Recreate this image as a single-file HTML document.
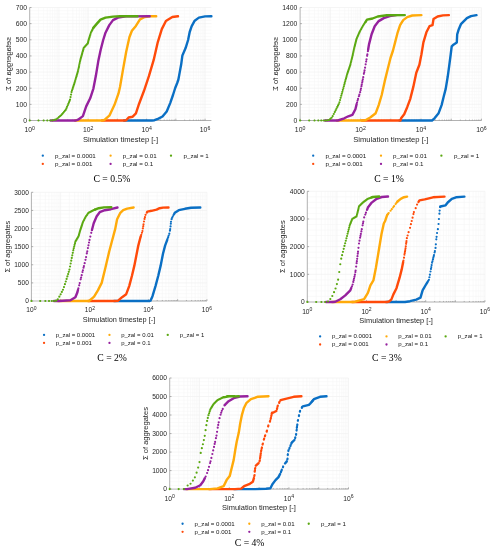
<!DOCTYPE html>
<html lang="en"><head><meta charset="utf-8"><title>Aggregates vs simulation timestep</title>
<style>html,body{margin:0;padding:0;background:#fff}svg{display:block}</style></head>
<body>
<svg width="494" height="550" viewBox="0 0 494 550" font-family="Liberation Sans, Arial, sans-serif">
<rect width="494" height="550" fill="#fff"/>
<g><path d="M29.7 117.27H211.4M29.7 114.04H211.4M29.7 110.81H211.4M29.7 107.59H211.4M29.7 101.13H211.4M29.7 97.9H211.4M29.7 94.67H211.4M29.7 91.44H211.4M29.7 84.99H211.4M29.7 81.76H211.4M29.7 78.53H211.4M29.7 75.3H211.4M29.7 68.84H211.4M29.7 65.61H211.4M29.7 62.39H211.4M29.7 59.16H211.4M29.7 52.7H211.4M29.7 49.47H211.4M29.7 46.24H211.4M29.7 43.01H211.4M29.7 36.56H211.4M29.7 33.33H211.4M29.7 30.1H211.4M29.7 26.87H211.4M29.7 20.41H211.4M29.7 17.19H211.4M29.7 13.96H211.4M29.7 10.73H211.4M38.5 7.5V120.5M43.65 7.5V120.5M47.3 7.5V120.5M50.13 7.5V120.5M52.45 7.5V120.5M54.4 7.5V120.5M56.1 7.5V120.5M57.59 7.5V120.5M67.73 7.5V120.5M72.88 7.5V120.5M76.53 7.5V120.5M79.36 7.5V120.5M81.68 7.5V120.5M83.63 7.5V120.5M85.33 7.5V120.5M86.82 7.5V120.5M96.96 7.5V120.5M102.11 7.5V120.5M105.76 7.5V120.5M108.59 7.5V120.5M110.91 7.5V120.5M112.86 7.5V120.5M114.56 7.5V120.5M116.05 7.5V120.5M126.19 7.5V120.5M131.34 7.5V120.5M134.99 7.5V120.5M137.82 7.5V120.5M140.14 7.5V120.5M142.09 7.5V120.5M143.79 7.5V120.5M145.28 7.5V120.5M155.42 7.5V120.5M160.57 7.5V120.5M164.22 7.5V120.5M167.05 7.5V120.5M169.37 7.5V120.5M171.32 7.5V120.5M173.02 7.5V120.5M174.51 7.5V120.5M184.65 7.5V120.5M189.8 7.5V120.5M193.45 7.5V120.5M196.28 7.5V120.5M198.6 7.5V120.5M200.55 7.5V120.5M202.25 7.5V120.5M203.74 7.5V120.5" stroke="#f6f6f6" stroke-width="0.6" fill="none"/><path d="M29.7 104.36H211.4M29.7 88.21H211.4M29.7 72.07H211.4M29.7 55.93H211.4M29.7 39.79H211.4M29.7 23.64H211.4M29.7 7.5H211.4M58.93 7.5V120.5M88.16 7.5V120.5M117.39 7.5V120.5M146.62 7.5V120.5M175.85 7.5V120.5M205.08 7.5V120.5" stroke="#f0f0f0" stroke-width="0.7" fill="none"/><path d="M29.7 7.5V120.5H211.4M29.7 120.5h1.8M29.7 104.36h1.8M29.7 88.21h1.8M29.7 72.07h1.8M29.7 55.93h1.8M29.7 39.79h1.8M29.7 23.64h1.8M29.7 7.5h1.8M29.7 120.5v-1.8M58.93 120.5v-1.8M88.16 120.5v-1.8M117.39 120.5v-1.8M146.62 120.5v-1.8M175.85 120.5v-1.8M205.08 120.5v-1.8M38.5 120.5v-0.9M43.65 120.5v-0.9M47.3 120.5v-0.9M50.13 120.5v-0.9M52.45 120.5v-0.9M54.4 120.5v-0.9M56.1 120.5v-0.9M57.59 120.5v-0.9M67.73 120.5v-0.9M72.88 120.5v-0.9M76.53 120.5v-0.9M79.36 120.5v-0.9M81.68 120.5v-0.9M83.63 120.5v-0.9M85.33 120.5v-0.9M86.82 120.5v-0.9M96.96 120.5v-0.9M102.11 120.5v-0.9M105.76 120.5v-0.9M108.59 120.5v-0.9M110.91 120.5v-0.9M112.86 120.5v-0.9M114.56 120.5v-0.9M116.05 120.5v-0.9M126.19 120.5v-0.9M131.34 120.5v-0.9M134.99 120.5v-0.9M137.82 120.5v-0.9M140.14 120.5v-0.9M142.09 120.5v-0.9M143.79 120.5v-0.9M145.28 120.5v-0.9M155.42 120.5v-0.9M160.57 120.5v-0.9M164.22 120.5v-0.9M167.05 120.5v-0.9M169.37 120.5v-0.9M171.32 120.5v-0.9M173.02 120.5v-0.9M174.51 120.5v-0.9M184.65 120.5v-0.9M189.8 120.5v-0.9M193.45 120.5v-0.9M196.28 120.5v-0.9M198.6 120.5v-0.9M200.55 120.5v-0.9M202.25 120.5v-0.9M203.74 120.5v-0.9" stroke="#909090" stroke-width="0.7" fill="none"/><g font-size="6.8" fill="#262626"><text x="27" y="122.85" text-anchor="end">0</text><text x="27" y="106.71" text-anchor="end">100</text><text x="27" y="90.56" text-anchor="end">200</text><text x="27" y="74.42" text-anchor="end">300</text><text x="27" y="58.28" text-anchor="end">400</text><text x="27" y="42.14" text-anchor="end">500</text><text x="27" y="25.99" text-anchor="end">600</text><text x="27" y="9.85" text-anchor="end">700</text><text x="29.7" y="132.3" text-anchor="middle">10<tspan dy="-2.6" font-size="5.2">0</tspan></text><text x="88.16" y="132.3" text-anchor="middle">10<tspan dy="-2.6" font-size="5.2">2</tspan></text><text x="146.62" y="132.3" text-anchor="middle">10<tspan dy="-2.6" font-size="5.2">4</tspan></text><text x="205.08" y="132.3" text-anchor="middle">10<tspan dy="-2.6" font-size="5.2">6</tspan></text></g><text x="120.45" y="142.2" font-size="7.6" fill="#262626" text-anchor="middle">Simulation timestep [-]</text><text transform="translate(11.45 64) scale(1 -1) rotate(-90)" direction="rtl" unicode-bidi="bidi-override" font-size="7.68" fill="#262626" text-anchor="middle">Σ of aggregates</text><polyline points="124,120.5 152,120.5 154.5,120.2 158.5,118.6 162.5,116.5 166.7,111.5 170.2,103.1 173,95 175.2,88 177.2,83 178.4,79.5 179.7,72.4 181.2,64.3 182.4,55.4 185.6,48.1 188.1,40 189.7,32 191.6,26.3 194.7,20.7 198.9,17.6 205.1,16.4 211.4,16.3" stroke="#0a6fc4" stroke-width="2.4" stroke-linecap="round" stroke-linejoin="round" fill="none"/><polyline points="102,120.5 125,120.5 126.2,120.2 128.6,117.5 132.7,116.7 135.9,113.4 139.1,103.7 144,90.8 148.9,76.2 153.7,59.9 157.8,42.1 161.8,29.1 165.9,21 172.3,17 178,16.3" stroke="#ff4a0a" stroke-width="2.4" stroke-linecap="round" stroke-linejoin="round" fill="none"/><polyline points="75,120.5 103,120.5 104.8,119.7 109.6,115.3 114.5,104.8 118.5,93.4 120,87 123,69.6 126.2,51.8 129.4,37.2 131.9,30.8 135.9,25.9 140,19.4 144.8,17 150,16.3 156.2,16.3" stroke="#ffaa0a" stroke-width="2.4" stroke-linecap="round" stroke-linejoin="round" fill="none"/><polyline points="51,120.5 76,120.5 78.1,119.7 82.9,116.1 86.2,106.4 90.2,98.3 93.4,88.6 95.9,75.6 98.3,61.1 100.7,49.7 103.2,40 105.5,32.7 109.3,25.1 113,20.1 118,17.6 126,16.4 149.7,16.3" stroke="#96219e" stroke-width="2.4" stroke-linecap="round" stroke-linejoin="round" fill="none"/><path d="M29.7 120.5h0M38.5 120.5h0M43.65 120.5h0M47.3 120.5h0M50.13 120.5h0M52.45 120.38h0M54.4 119.87h0M56.1 119.43h0M57.59 118.23h0M58.93 117.12h0M60.14 116.1h0M61.24 115.13h0M62.26 113.92h0M63.2 112.8h0M64.08 111.76h0M64.9 110.79h0M65.67 109.88h0M66.39 108.44h0M67.08 106.81h0M67.73 105.27h0M68.35 103.81h0M68.94 102.41h0M69.5 101.08h0M70.04 99.68h0M70.56 97.06h0M71.06 94.54h0M71.54 92.11h0M72 90.59h0M72.45 89.24h0M72.88 87.93h0M73.29 86.67h0M73.7 85.45h0M74.09 84.26h0M74.47 83.12h0M74.83 81.99h0M75.19 80.76h0M75.54 79.57h0M75.88 78.41h0M76.21 77.28h0M76.53 76.18h0M76.84 75.11h0M77.15 74.06h0M77.45 73.04h0M77.74 72.04h0M78.02 71.06h0M78.3 69.84h0M78.58 68.54h0M78.84 67.27h0M79.1 66.03h0M79.36 64.81h0M79.61 63.62h0M79.86 62.45h0M80.1 61.3h0M80.34 60.17h0M80.57 59.15h0M80.8 58.34h0M81.02 57.55h0M81.25 56.77h0M81.46 56h0M81.68 55.25h0M81.89 54.51h0M82.09 53.78h0M82.29 53.06h0M82.49 52.36h0M82.69 51.66h0M82.89 50.98h0M83.08 50.3h0M83.26 49.64h0M83.45 48.98h0M83.63 48.34h0M83.81 47.97h0M83.99 47.77h0M84.16 47.58h0M84.34 47.38h0M84.51 47.19h0M84.68 47h0M84.84 46.82h0M85.01 46.63h0M85.17 46.45h0M85.33 46.27h0M85.49 46.1h0M85.64 45.92h0M85.79 45.75h0M85.95 45.58h0M86.1 45.41h0M86.25 45.24h0M86.39 45.08h0M86.54 44.92h0M86.68 44.76h0M86.82 44.6h0M86.96 44.44h0M87.1 44.28h0M87.24 44.13h0M87.37 43.98h0M87.51 43.83h0M87.64 43.68h0M87.77 43.53h0M87.9 43.05h0M88.03 42.48h0M88.16 41.92h0M88.29 41.37h0M88.41 40.83h0M88.54 40.28h0M88.66 39.82h0M88.78 39.45h0M88.9 39.09h0M89.02 38.73h0M89.14 38.37h0M89.25 38.01h0M89.37 37.66h0M89.48 37.31h0M89.6 36.96h0M89.71 36.62h0M89.82 36.28h0M89.93 35.94h0M90.04 35.61h0M90.15 35.28h0M90.26 34.95h0M90.37 34.62h0M90.47 34.3h0M90.58 33.98h0M90.68 33.66h0M90.79 33.35h0M90.89 33.03h0M90.99 32.72h0M91.09 32.51h0M91.19 32.3h0M91.29 32.1h0M91.39 31.9h0M91.49 31.7h0M91.59 31.5h0M91.68 31.3h0M91.78 31.11h0M91.88 30.91h0M91.97 30.72h0M92.06 30.53h0M92.16 30.34h0M92.25 30.15h0M92.34 29.97h0M92.43 29.78h0M92.52 29.6h0M92.61 29.41h0M92.7 29.23h0M92.79 29.05h0M92.88 28.87h0M92.96 28.69h0M93.05 28.52h0M93.14 28.34h0M93.22 28.17h0" stroke="#5aa811" stroke-width="2.2" stroke-linecap="round" fill="none"/><polyline points="93.31,27.99 93.5,27.6 96.7,23.9 100.5,19.6 105.5,17.6 113,16.6 120,16.3 137.5,16.3" stroke="#5aa811" stroke-width="2.4" stroke-linecap="round" stroke-linejoin="round" fill="none"/><g font-size="6.2" fill="#151515"><circle cx="42.8" cy="155.7" r="1.15" fill="#0a6fc4"/><text x="55" y="157.7">p_zal = 0.0001</text><circle cx="42.8" cy="163.9" r="1.15" fill="#ff4a0a"/><text x="55" y="165.9">p_zal = 0.001</text><circle cx="110.6" cy="155.7" r="1.15" fill="#ffaa0a"/><text x="122.7" y="157.7">p_zal = 0.01</text><circle cx="110.6" cy="163.9" r="1.15" fill="#96219e"/><text x="122.7" y="165.9">p_zal = 0.1</text><circle cx="171" cy="155.7" r="1.15" fill="#5aa811"/><text x="183.5" y="157.7">p_zal = 1</text></g><text x="111.9" y="181.8" font-family="Liberation Serif, Times New Roman, serif" font-size="9.7" fill="#000" text-anchor="middle">C = 0.5%</text></g>
<g><path d="M300.1 117.27H481.5M300.1 114.04H481.5M300.1 110.81H481.5M300.1 107.59H481.5M300.1 101.13H481.5M300.1 97.9H481.5M300.1 94.67H481.5M300.1 91.44H481.5M300.1 84.99H481.5M300.1 81.76H481.5M300.1 78.53H481.5M300.1 75.3H481.5M300.1 68.84H481.5M300.1 65.61H481.5M300.1 62.39H481.5M300.1 59.16H481.5M300.1 52.7H481.5M300.1 49.47H481.5M300.1 46.24H481.5M300.1 43.01H481.5M300.1 36.56H481.5M300.1 33.33H481.5M300.1 30.1H481.5M300.1 26.87H481.5M300.1 20.41H481.5M300.1 17.19H481.5M300.1 13.96H481.5M300.1 10.73H481.5M309.2 7.5V120.5M314.52 7.5V120.5M318.3 7.5V120.5M321.23 7.5V120.5M323.62 7.5V120.5M325.65 7.5V120.5M327.4 7.5V120.5M328.95 7.5V120.5M339.43 7.5V120.5M344.75 7.5V120.5M348.53 7.5V120.5M351.46 7.5V120.5M353.85 7.5V120.5M355.88 7.5V120.5M357.63 7.5V120.5M359.18 7.5V120.5M369.66 7.5V120.5M374.98 7.5V120.5M378.76 7.5V120.5M381.69 7.5V120.5M384.08 7.5V120.5M386.11 7.5V120.5M387.86 7.5V120.5M389.41 7.5V120.5M399.89 7.5V120.5M405.21 7.5V120.5M408.99 7.5V120.5M411.92 7.5V120.5M414.31 7.5V120.5M416.34 7.5V120.5M418.09 7.5V120.5M419.64 7.5V120.5M430.12 7.5V120.5M435.44 7.5V120.5M439.22 7.5V120.5M442.15 7.5V120.5M444.54 7.5V120.5M446.57 7.5V120.5M448.32 7.5V120.5M449.87 7.5V120.5M460.35 7.5V120.5M465.67 7.5V120.5M469.45 7.5V120.5M472.38 7.5V120.5M474.77 7.5V120.5M476.8 7.5V120.5M478.55 7.5V120.5M480.1 7.5V120.5" stroke="#f6f6f6" stroke-width="0.6" fill="none"/><path d="M300.1 104.36H481.5M300.1 88.21H481.5M300.1 72.07H481.5M300.1 55.93H481.5M300.1 39.79H481.5M300.1 23.64H481.5M300.1 7.5H481.5M330.33 7.5V120.5M360.56 7.5V120.5M390.79 7.5V120.5M421.02 7.5V120.5M451.25 7.5V120.5M481.48 7.5V120.5" stroke="#f0f0f0" stroke-width="0.7" fill="none"/><path d="M300.1 7.5V120.5H481.5M300.1 120.5h1.8M300.1 104.36h1.8M300.1 88.21h1.8M300.1 72.07h1.8M300.1 55.93h1.8M300.1 39.79h1.8M300.1 23.64h1.8M300.1 7.5h1.8M300.1 120.5v-1.8M330.33 120.5v-1.8M360.56 120.5v-1.8M390.79 120.5v-1.8M421.02 120.5v-1.8M451.25 120.5v-1.8M481.48 120.5v-1.8M309.2 120.5v-0.9M314.52 120.5v-0.9M318.3 120.5v-0.9M321.23 120.5v-0.9M323.62 120.5v-0.9M325.65 120.5v-0.9M327.4 120.5v-0.9M328.95 120.5v-0.9M339.43 120.5v-0.9M344.75 120.5v-0.9M348.53 120.5v-0.9M351.46 120.5v-0.9M353.85 120.5v-0.9M355.88 120.5v-0.9M357.63 120.5v-0.9M359.18 120.5v-0.9M369.66 120.5v-0.9M374.98 120.5v-0.9M378.76 120.5v-0.9M381.69 120.5v-0.9M384.08 120.5v-0.9M386.11 120.5v-0.9M387.86 120.5v-0.9M389.41 120.5v-0.9M399.89 120.5v-0.9M405.21 120.5v-0.9M408.99 120.5v-0.9M411.92 120.5v-0.9M414.31 120.5v-0.9M416.34 120.5v-0.9M418.09 120.5v-0.9M419.64 120.5v-0.9M430.12 120.5v-0.9M435.44 120.5v-0.9M439.22 120.5v-0.9M442.15 120.5v-0.9M444.54 120.5v-0.9M446.57 120.5v-0.9M448.32 120.5v-0.9M449.87 120.5v-0.9M460.35 120.5v-0.9M465.67 120.5v-0.9M469.45 120.5v-0.9M472.38 120.5v-0.9M474.77 120.5v-0.9M476.8 120.5v-0.9M478.55 120.5v-0.9M480.1 120.5v-0.9" stroke="#909090" stroke-width="0.7" fill="none"/><g font-size="6.8" fill="#262626"><text x="297.4" y="122.85" text-anchor="end">0</text><text x="297.4" y="106.71" text-anchor="end">200</text><text x="297.4" y="90.56" text-anchor="end">400</text><text x="297.4" y="74.42" text-anchor="end">600</text><text x="297.4" y="58.28" text-anchor="end">800</text><text x="297.4" y="42.14" text-anchor="end">1000</text><text x="297.4" y="25.99" text-anchor="end">1200</text><text x="297.4" y="9.85" text-anchor="end">1400</text><text x="300.1" y="132.3" text-anchor="middle">10<tspan dy="-2.6" font-size="5.2">0</tspan></text><text x="360.56" y="132.3" text-anchor="middle">10<tspan dy="-2.6" font-size="5.2">2</tspan></text><text x="421.02" y="132.3" text-anchor="middle">10<tspan dy="-2.6" font-size="5.2">4</tspan></text><text x="481.48" y="132.3" text-anchor="middle">10<tspan dy="-2.6" font-size="5.2">6</tspan></text></g><text x="390.85" y="142.2" font-size="7.6" fill="#262626" text-anchor="middle">Simulation timestep [-]</text><text transform="translate(277.85 64) scale(1 -1) rotate(-90)" direction="rtl" unicode-bidi="bidi-override" font-size="7.68" fill="#262626" text-anchor="middle">Σ of aggregates</text><polyline points="399.5,120.5 432,120.5 434.5,118.3 438.6,113.2 441.6,105.1 443.6,97 445.7,88.9 447.7,76.8 449.1,66.7 450.7,54.5 451.7,46.4 453.8,44.4 456.8,42.4 457.2,34.3 458.8,29.2 460.9,24.2 463.9,21.1 466.9,18.1 471,16.1 476.5,15.1" stroke="#0a6fc4" stroke-width="2.4" stroke-linecap="round" stroke-linejoin="round" fill="none"/><polyline points="362,120.5 400.5,120.5 401.1,118.3 404.2,114.3 407.2,107.2 410.2,99.1 413.3,86.9 416.3,72.8 419.4,64.7 421.4,54.5 423.4,42.4 426.4,32.3 429.5,26.2 432.5,25.2 433.5,19.1 437.6,16.5 443,15.4 448.9,15.1" stroke="#ff4a0a" stroke-width="2.4" stroke-linecap="round" stroke-linejoin="round" fill="none"/><polyline points="336.8,120.5 363,120.5 365.4,120.3 370.6,117.3 375.7,113.2 378.7,105.1 381.7,95 384.8,80.9 387.8,68.7 390.5,58 393,50.5 395.1,42.4 397.7,32.3 400.1,25.2 403.2,20.1 407.2,17.1 412.3,15.5 421.4,15.1" stroke="#ffaa0a" stroke-width="2.4" stroke-linecap="round" stroke-linejoin="round" fill="none"/><polyline points="325,120.5 337.8,120.5 344.3,118.3 348.3,116.3 352.4,114.9 355.4,109.2 356.67,104.06" stroke="#96219e" stroke-width="2.4" stroke-linecap="round" stroke-linejoin="round" fill="none"/><polyline points="368.11,49.8 369,44.4 371.6,34.3 374.7,26.2 378.7,21.1 383.8,18.1 389.8,16.1 396,15.1" stroke="#96219e" stroke-width="2.4" stroke-linecap="round" stroke-linejoin="round" fill="none"/><path d="M357.06 102.48h0M357.58 100.52h0M358.06 98.96h0M358.89 96.24h0M359.37 94.69h0M360.14 92.17h0M360.7 90.01h0M360.97 88.62h0M361.44 86.25h0M361.75 84.66h0M362.19 82.48h0M362.5 80.9h0M362.81 79.33h0M363.24 77.16h0M363.89 73.82h0M364.2 72.24h0M364.55 70.47h0M365.07 67.71h0M365.66 64.34h0M366.14 61.56h0M366.52 59.38h0M367.13 55.8h0M367.36 54.4h0M367.89 51.2h0" stroke="#96219e" stroke-width="2.2" stroke-linecap="round" fill="none"/><path d="M300.1 120.5h0M309.2 120.5h0M314.52 120.5h0M318.3 120.5h0M321.23 120.5h0M323.62 120.5h0M325.65 120.5h0M327.4 120.27h0M328.95 120.01h0M330.33 118.84h0M331.58 117.75h0M332.72 116.07h0M333.77 114.01h0M334.75 112.09h0M335.65 110.28h0M336.5 108.57h0M337.3 106.95h0M338.05 105.44h0M338.76 104h0M339.43 102.28h0M340.07 99.98h0M340.68 97.8h0M341.27 95.71h0M341.82 93.71h0M342.36 91.78h0M342.87 89.87h0M343.37 88.04h0M343.85 86.27h0M344.31 84.57h0M344.75 82.92h0M345.18 81.33h0M345.6 79.83h0M346 78.4h0M346.4 77.01h0M346.78 75.66h0M347.15 74.34h0M347.51 73.19h0M347.86 72.17h0M348.2 71.16h0M348.53 70.19h0M348.85 69.24h0M349.17 68.31h0M349.48 67.4h0M349.78 66.52h0M350.08 65.65h0M350.37 64.8h0M350.65 63.7h0M350.92 62.58h0M351.19 61.48h0M351.46 60.41h0M351.72 59.35h0M351.97 58.32h0M352.22 57.31h0M352.47 56.28h0M352.71 55.17h0M352.95 54.08h0M353.18 53.01h0M353.41 51.96h0M353.63 50.93h0M353.85 49.91h0M354.07 48.92h0M354.28 47.93h0M354.49 47.02h0M354.7 46.2h0M354.9 45.38h0M355.1 44.58h0M355.3 43.79h0M355.5 43.01h0M355.69 42.25h0M355.88 41.49h0M356.06 40.75h0M356.25 40.01h0M356.43 39.34h0M356.61 38.93h0M356.78 38.52h0M356.96 38.12h0M357.13 37.73h0M357.3 37.34h0M357.47 36.96h0M357.63 36.58h0M357.79 36.21h0M357.95 35.84h0M358.11 35.48h0M358.27 35.11h0M358.43 34.76h0M358.58 34.41h0M358.73 34.06h0M358.88 33.72h0M359.03 33.38h0M359.18 33.04h0M359.32 32.71h0M359.47 32.38h0M359.61 32.11h0M359.75 31.86h0M359.89 31.61h0M360.02 31.36h0M360.16 31.12h0M360.29 30.87h0M360.43 30.63h0M360.56 30.4h0M360.69 30.16h0M360.82 29.93h0M360.95 29.7h0M361.07 29.47h0M361.2 29.25h0M361.32 29.03h0M361.45 28.8h0M361.57 28.59h0M361.69 28.37h0M361.81 28.15h0M361.93 27.94h0M362.05 27.73h0M362.16 27.52h0M362.28 27.31h0M362.39 27.11h0M362.51 26.9h0M362.62 26.7h0M362.73 26.5h0M362.84 26.3h0M362.95 26.11h0M363.06 25.94h0M363.17 25.77h0M363.28 25.6h0M363.38 25.43h0M363.49 25.27h0M363.59 25.1h0M363.7 24.93h0M363.8 24.77h0M363.9 24.61h0M364 24.45h0M364.11 24.29h0M364.2 24.13h0M364.3 23.97h0M364.4 23.82h0M364.5 23.66h0M364.6 23.51h0M364.69 23.36h0M364.79 23.21h0M364.88 23.06h0M364.98 22.91h0M365.07 22.76h0M365.16 22.61h0M365.26 22.47h0M365.35 22.32h0M365.44 22.18h0M365.53 22.03h0M365.62 21.89h0M365.71 21.75h0M365.8 21.61h0" stroke="#5aa811" stroke-width="2.2" stroke-linecap="round" fill="none"/><polyline points="365.88,21.47 367,19.7 372.6,18.5 377.7,16.5 386.8,15.3 404.8,15.1" stroke="#5aa811" stroke-width="2.4" stroke-linecap="round" stroke-linejoin="round" fill="none"/><g font-size="6.2" fill="#151515"><circle cx="313.2" cy="155.7" r="1.15" fill="#0a6fc4"/><text x="325.4" y="157.7">p_zal = 0.0001</text><circle cx="313.2" cy="163.9" r="1.15" fill="#ff4a0a"/><text x="325.4" y="165.9">p_zal = 0.001</text><circle cx="381" cy="155.7" r="1.15" fill="#ffaa0a"/><text x="393.1" y="157.7">p_zal = 0.01</text><circle cx="381" cy="163.9" r="1.15" fill="#96219e"/><text x="393.1" y="165.9">p_zal = 0.1</text><circle cx="441.4" cy="155.7" r="1.15" fill="#5aa811"/><text x="453.9" y="157.7">p_zal = 1</text></g><text x="389" y="181.8" font-family="Liberation Serif, Times New Roman, serif" font-size="9.7" fill="#000" text-anchor="middle">C = 1%</text></g>
<g><path d="M31.4 297.38H207M31.4 293.75H207M31.4 290.13H207M31.4 286.51H207M31.4 279.26H207M31.4 275.64H207M31.4 272.01H207M31.4 268.39H207M31.4 261.14H207M31.4 257.52H207M31.4 253.9H207M31.4 250.27H207M31.4 243.03H207M31.4 239.4H207M31.4 235.78H207M31.4 232.16H207M31.4 224.91H207M31.4 221.29H207M31.4 217.66H207M31.4 214.04H207M31.4 206.79H207M31.4 203.17H207M31.4 199.55H207M31.4 195.92H207M40.21 192.3V301M45.36 192.3V301M49.01 192.3V301M51.84 192.3V301M54.16 192.3V301M56.12 192.3V301M57.82 192.3V301M59.31 192.3V301M69.46 192.3V301M74.61 192.3V301M78.26 192.3V301M81.09 192.3V301M83.41 192.3V301M85.37 192.3V301M87.07 192.3V301M88.56 192.3V301M98.71 192.3V301M103.86 192.3V301M107.51 192.3V301M110.34 192.3V301M112.66 192.3V301M114.62 192.3V301M116.32 192.3V301M117.81 192.3V301M127.96 192.3V301M133.11 192.3V301M136.76 192.3V301M139.59 192.3V301M141.91 192.3V301M143.87 192.3V301M145.57 192.3V301M147.06 192.3V301M157.21 192.3V301M162.36 192.3V301M166.01 192.3V301M168.84 192.3V301M171.16 192.3V301M173.12 192.3V301M174.82 192.3V301M176.31 192.3V301M186.46 192.3V301M191.61 192.3V301M195.26 192.3V301M198.09 192.3V301M200.41 192.3V301M202.37 192.3V301M204.07 192.3V301M205.56 192.3V301" stroke="#f6f6f6" stroke-width="0.6" fill="none"/><path d="M31.4 282.88H207M31.4 264.77H207M31.4 246.65H207M31.4 228.53H207M31.4 210.42H207M31.4 192.3H207M60.65 192.3V301M89.9 192.3V301M119.15 192.3V301M148.4 192.3V301M177.65 192.3V301M206.9 192.3V301" stroke="#f0f0f0" stroke-width="0.7" fill="none"/><path d="M31.4 192.3V301H207M31.4 301h1.8M31.4 282.88h1.8M31.4 264.77h1.8M31.4 246.65h1.8M31.4 228.53h1.8M31.4 210.42h1.8M31.4 192.3h1.8M31.4 301v-1.8M60.65 301v-1.8M89.9 301v-1.8M119.15 301v-1.8M148.4 301v-1.8M177.65 301v-1.8M206.9 301v-1.8M40.21 301v-0.9M45.36 301v-0.9M49.01 301v-0.9M51.84 301v-0.9M54.16 301v-0.9M56.12 301v-0.9M57.82 301v-0.9M59.31 301v-0.9M69.46 301v-0.9M74.61 301v-0.9M78.26 301v-0.9M81.09 301v-0.9M83.41 301v-0.9M85.37 301v-0.9M87.07 301v-0.9M88.56 301v-0.9M98.71 301v-0.9M103.86 301v-0.9M107.51 301v-0.9M110.34 301v-0.9M112.66 301v-0.9M114.62 301v-0.9M116.32 301v-0.9M117.81 301v-0.9M127.96 301v-0.9M133.11 301v-0.9M136.76 301v-0.9M139.59 301v-0.9M141.91 301v-0.9M143.87 301v-0.9M145.57 301v-0.9M147.06 301v-0.9M157.21 301v-0.9M162.36 301v-0.9M166.01 301v-0.9M168.84 301v-0.9M171.16 301v-0.9M173.12 301v-0.9M174.82 301v-0.9M176.31 301v-0.9M186.46 301v-0.9M191.61 301v-0.9M195.26 301v-0.9M198.09 301v-0.9M200.41 301v-0.9M202.37 301v-0.9M204.07 301v-0.9M205.56 301v-0.9" stroke="#909090" stroke-width="0.7" fill="none"/><g font-size="6.56" fill="#262626"><text x="28.79" y="303.27" text-anchor="end">0</text><text x="28.79" y="285.15" text-anchor="end">500</text><text x="28.79" y="267.03" text-anchor="end">1000</text><text x="28.79" y="248.92" text-anchor="end">1500</text><text x="28.79" y="230.8" text-anchor="end">2000</text><text x="28.79" y="212.68" text-anchor="end">2500</text><text x="28.79" y="194.57" text-anchor="end">3000</text><text x="31.4" y="312.39" text-anchor="middle">10<tspan dy="-2.51" font-size="5.02">0</tspan></text><text x="89.9" y="312.39" text-anchor="middle">10<tspan dy="-2.51" font-size="5.02">2</tspan></text><text x="148.4" y="312.39" text-anchor="middle">10<tspan dy="-2.51" font-size="5.02">4</tspan></text><text x="206.9" y="312.39" text-anchor="middle">10<tspan dy="-2.51" font-size="5.02">6</tspan></text></g><text x="118.97" y="321.94" font-size="7.33" fill="#262626" text-anchor="middle">Simulation timestep [-]</text><text transform="translate(9.95 246.65) rotate(-90)" font-size="7.41" fill="#262626" text-anchor="middle">Σ of aggregates</text><polyline points="114,301 149.5,301 150.5,300.7 152.5,296.2 155.5,286.1 158.2,276 160.6,265.9 163,253.7 165.1,245.6 167.14,240.04" stroke="#0a6fc4" stroke-width="2.4" stroke-linecap="round" stroke-linejoin="round" fill="none"/><polyline points="174.2,213.85 174.8,212.8 178.8,210.2 184.9,208.8 191,207.8 200.3,207.5" stroke="#0a6fc4" stroke-width="2.4" stroke-linecap="round" stroke-linejoin="round" fill="none"/><path d="M167.63 238.69h0M168.15 237.15h0M168.67 235.6h0M169.31 233.66h0M169.96 230.67h0M170.19 229.05h0M170.56 226.41h0M170.83 223.77h0M170.99 221.73h0M171.59 219.16h0M172.15 217.82h0M172.72 216.49h0M173.5 215.08h0" stroke="#0a6fc4" stroke-width="2.2" stroke-linecap="round" fill="none"/><polyline points="88.1,301 115,301 118.1,300.7 122.1,297.2 126.2,294.2 129.2,286.1 131.9,276 134.3,265.9 136.3,255.7 138.3,245.6 140.4,237.5 140.84,236.17" stroke="#ff4a0a" stroke-width="2.4" stroke-linecap="round" stroke-linejoin="round" fill="none"/><polyline points="147.2,211.96 147.4,211.6 151.5,210.8 156.6,209.6 159.6,208.2 163,207.6 168.5,207.5" stroke="#ff4a0a" stroke-width="2.4" stroke-linecap="round" stroke-linejoin="round" fill="none"/><path d="M141.28 234.83h0M141.96 232.73h0M142.46 231h0M142.87 228.43h0M143.22 226.25h0M143.5 224.47h0M143.97 221.5h0M144.54 218.94h0M144.95 217.17h0M145.6 214.84h0M146.8 212.68h0" stroke="#ff4a0a" stroke-width="2.2" stroke-linecap="round" fill="none"/><polyline points="58,301 89.1,301 94.1,296.7 97.9,290.4 101.7,282.9 105.4,267.8 109.2,251.5 112,241 115.1,229.4 117.1,219.3 120.1,213.2 123.2,210.2 127.2,208.6 133.6,207.5" stroke="#ffaa0a" stroke-width="2.4" stroke-linecap="round" stroke-linejoin="round" fill="none"/><polyline points="54,301 59,301 70.4,300.3 75.4,297.2 77.4,292.2 77.96,290.03" stroke="#96219e" stroke-width="2.4" stroke-linecap="round" stroke-linejoin="round" fill="none"/><polyline points="92.01,229.82 93.7,223.3 96.7,216.3 99.7,212.2 104.8,210.2 110.9,209.2 117.5,207.5" stroke="#96219e" stroke-width="2.4" stroke-linecap="round" stroke-linejoin="round" fill="none"/><path d="M78.37 288.45h0M79.19 285.29h0M79.74 283.11h0M80.67 279.36h0M81.11 277.58h0M81.7 275.21h0M82.48 272.05h0M82.91 270.27h0M83.55 267.7h0M83.94 266.12h0M84.67 263.16h0M85.5 259.8h0M86.08 257.03h0M86.82 253.46h0M87.27 251.28h0M87.91 248.1h0M88.46 245.3h0M89.01 242.5h0M89.52 239.9h0M90.33 236.54h0M91.26 232.78h0M91.91 230.21h0" stroke="#96219e" stroke-width="2.2" stroke-linecap="round" fill="none"/><path d="M31.4 301h0M40.21 301h0M45.36 301h0M49.01 301h0M51.84 301h0M54.16 301h0M56.12 300.64h0M57.82 299.25h0M59.31 296.71h0M60.65 294.31h0M61.86 291.93h0M62.97 289.76h0M63.98 287.03h0M64.92 284.17h0M65.8 281.51h0M66.62 278.96h0M67.39 276.45h0M68.12 274.08h0M68.8 271.84h0M69.46 269.62h0M70.07 266.49h0M70.67 263.51h0M71.23 260.66h0M71.77 257.93h0M72.29 255.31h0M72.79 252.79h0M73.27 250.37h0M73.73 248.37h0M74.18 246.56h0M74.61 244.82h0M75.02 243.13h0M75.43 241.56h0M75.82 240.91h0M76.2 240.29h0M76.56 239.69h0M76.92 239.1h0M77.27 238.52h0M77.61 237.97h0M77.94 237.42h0M78.26 236.89h0M78.57 236.24h0M78.88 235.15h0M79.18 234.09h0M79.47 233.05h0M79.76 232.04h0M80.04 231.05h0M80.31 230.08h0M80.58 229.17h0M80.84 228.4h0M81.09 227.64h0M81.35 226.9h0M81.59 226.17h0M81.84 225.45h0M82.07 224.75h0M82.31 224.06h0M82.53 223.38h0M82.76 222.72h0M82.98 222.15h0M83.2 221.73h0M83.41 221.32h0M83.62 220.91h0M83.83 220.52h0M84.03 220.13h0M84.23 219.74h0M84.43 219.36h0M84.62 218.99h0M84.81 218.62h0M85 218.26h0M85.19 217.9h0M85.37 217.55h0M85.55 217.23h0M85.73 216.97h0M85.9 216.72h0M86.08 216.47h0M86.25 216.22h0M86.41 215.97h0M86.58 215.73h0M86.74 215.49h0M86.91 215.26h0M87.07 215.03h0M87.22 214.8h0M87.38 214.57h0M87.53 214.35h0M87.69 214.13h0M87.84 213.91h0M87.98 213.69h0M88.13 213.48h0M88.28 213.27h0M88.42 213.06h0M88.56 212.86h0M88.7 212.75h0M88.84 212.67h0M88.98 212.6h0M89.11 212.53h0M89.25 212.46h0M89.38 212.39h0M89.51 212.33h0M89.64 212.26h0M89.77 212.19h0M89.9 212.12h0M90.03 212.06h0M90.15 211.99h0M90.28 211.93h0M90.4 211.86h0M90.52 211.8h0M90.64 211.74h0M90.76 211.68h0M90.88 211.62h0M90.99 211.55h0M91.11 211.49h0M91.23 211.43h0M91.34 211.38h0M91.45 211.32h0M91.56 211.26h0M91.68 211.2h0M91.79 211.14h0M91.89 211.09h0M92 211.03h0M92.11 210.97h0M92.22 210.92h0M92.32 210.86h0M92.43 210.81h0M92.53 210.76h0M92.63 210.7h0M92.73 210.65h0M92.84 210.6h0M92.94 210.55h0M93.04 210.49h0M93.13 210.44h0M93.23 210.39h0M93.33 210.34h0M93.43 210.29h0M93.52 210.24h0M93.62 210.19h0M93.71 210.16h0M93.81 210.12h0M93.9 210.08h0M93.99 210.05h0M94.08 210.01h0M94.17 209.97h0M94.26 209.94h0M94.35 209.9h0M94.44 209.87h0M94.53 209.83h0M94.62 209.8h0M94.71 209.77h0M94.79 209.73h0M94.88 209.7h0M94.97 209.66h0" stroke="#5aa811" stroke-width="2.2" stroke-linecap="round" fill="none"/><polyline points="95.05,209.63 98.7,208.2 104,207.4 111.3,207.3" stroke="#5aa811" stroke-width="2.4" stroke-linecap="round" stroke-linejoin="round" fill="none"/><g font-size="5.98" fill="#151515"><circle cx="44.04" cy="334.97" r="1.15" fill="#0a6fc4"/><text x="55.81" y="336.9">p_zal = 0.0001</text><circle cx="44.04" cy="342.88" r="1.15" fill="#ff4a0a"/><text x="55.81" y="344.81">p_zal = 0.001</text><circle cx="109.47" cy="334.97" r="1.15" fill="#ffaa0a"/><text x="121.14" y="336.9">p_zal = 0.01</text><circle cx="109.47" cy="342.88" r="1.15" fill="#96219e"/><text x="121.14" y="344.81">p_zal = 0.1</text><circle cx="167.75" cy="334.97" r="1.15" fill="#5aa811"/><text x="179.82" y="336.9">p_zal = 1</text></g><text x="112.1" y="361.1" font-family="Liberation Serif, Times New Roman, serif" font-size="9.7" fill="#000" text-anchor="middle">C = 2%</text></g>
<g><path d="M307.3 296.46H485M307.3 290.93H485M307.3 285.39H485M307.3 279.86H485M307.3 268.79H485M307.3 263.25H485M307.3 257.72H485M307.3 252.19H485M307.3 241.12H485M307.3 235.58H485M307.3 230.05H485M307.3 224.51H485M307.3 213.44H485M307.3 207.91H485M307.3 202.37H485M307.3 196.84H485M316.21 191.3V302M321.42 191.3V302M325.12 191.3V302M327.99 191.3V302M330.33 191.3V302M332.31 191.3V302M334.03 191.3V302M335.55 191.3V302M345.81 191.3V302M351.02 191.3V302M354.72 191.3V302M357.59 191.3V302M359.93 191.3V302M361.91 191.3V302M363.63 191.3V302M365.15 191.3V302M375.41 191.3V302M380.62 191.3V302M384.32 191.3V302M387.19 191.3V302M389.53 191.3V302M391.51 191.3V302M393.23 191.3V302M394.75 191.3V302M405.01 191.3V302M410.22 191.3V302M413.92 191.3V302M416.79 191.3V302M419.13 191.3V302M421.11 191.3V302M422.83 191.3V302M424.35 191.3V302M434.61 191.3V302M439.82 191.3V302M443.52 191.3V302M446.39 191.3V302M448.73 191.3V302M450.71 191.3V302M452.43 191.3V302M453.95 191.3V302M464.21 191.3V302M469.42 191.3V302M473.12 191.3V302M475.99 191.3V302M478.33 191.3V302M480.31 191.3V302M482.03 191.3V302M483.55 191.3V302" stroke="#f6f6f6" stroke-width="0.6" fill="none"/><path d="M307.3 274.32H485M307.3 246.65H485M307.3 218.98H485M307.3 191.3H485M336.9 191.3V302M366.5 191.3V302M396.1 191.3V302M425.7 191.3V302M455.3 191.3V302M484.9 191.3V302" stroke="#f0f0f0" stroke-width="0.7" fill="none"/><path d="M307.3 191.3V302H485M307.3 302h1.8M307.3 274.32h1.8M307.3 246.65h1.8M307.3 218.98h1.8M307.3 191.3h1.8M307.3 302v-1.8M336.9 302v-1.8M366.5 302v-1.8M396.1 302v-1.8M425.7 302v-1.8M455.3 302v-1.8M484.9 302v-1.8M316.21 302v-0.9M321.42 302v-0.9M325.12 302v-0.9M327.99 302v-0.9M330.33 302v-0.9M332.31 302v-0.9M334.03 302v-0.9M335.55 302v-0.9M345.81 302v-0.9M351.02 302v-0.9M354.72 302v-0.9M357.59 302v-0.9M359.93 302v-0.9M361.91 302v-0.9M363.63 302v-0.9M365.15 302v-0.9M375.41 302v-0.9M380.62 302v-0.9M384.32 302v-0.9M387.19 302v-0.9M389.53 302v-0.9M391.51 302v-0.9M393.23 302v-0.9M394.75 302v-0.9M405.01 302v-0.9M410.22 302v-0.9M413.92 302v-0.9M416.79 302v-0.9M419.13 302v-0.9M421.11 302v-0.9M422.83 302v-0.9M424.35 302v-0.9M434.61 302v-0.9M439.82 302v-0.9M443.52 302v-0.9M446.39 302v-0.9M448.73 302v-0.9M450.71 302v-0.9M452.43 302v-0.9M453.95 302v-0.9M464.21 302v-0.9M469.42 302v-0.9M473.12 302v-0.9M475.99 302v-0.9M478.33 302v-0.9M480.31 302v-0.9M482.03 302v-0.9M483.55 302v-0.9" stroke="#909090" stroke-width="0.7" fill="none"/><g font-size="6.66" fill="#262626"><text x="304.66" y="304.3" text-anchor="end">0</text><text x="304.66" y="276.63" text-anchor="end">1000</text><text x="304.66" y="248.95" text-anchor="end">2000</text><text x="304.66" y="221.28" text-anchor="end">3000</text><text x="304.66" y="193.6" text-anchor="end">4000</text><text x="307.3" y="313.55" text-anchor="middle">10<tspan dy="-2.55" font-size="5.09">0</tspan></text><text x="366.5" y="313.55" text-anchor="middle">10<tspan dy="-2.55" font-size="5.09">2</tspan></text><text x="425.7" y="313.55" text-anchor="middle">10<tspan dy="-2.55" font-size="5.09">4</tspan></text><text x="484.9" y="313.55" text-anchor="middle">10<tspan dy="-2.55" font-size="5.09">6</tspan></text></g><text x="396.14" y="323.24" font-size="7.44" fill="#262626" text-anchor="middle">Simulation timestep [-]</text><text transform="translate(285.2 246.65) rotate(-90)" font-size="7.51" fill="#262626" text-anchor="middle">Σ of aggregates</text><polyline points="386,302 405,302 410,301.2 416.3,299.6 420.5,297.6 422.6,290.3 425.7,285 427.51,282.05" stroke="#0a6fc4" stroke-width="2.4" stroke-linecap="round" stroke-linejoin="round" fill="none"/><polyline points="440.23,206.91 440.3,206.5 445.6,205.3 447.7,202.5 451.8,198.8 456,197.3 464.4,196.6" stroke="#0a6fc4" stroke-width="2.4" stroke-linecap="round" stroke-linejoin="round" fill="none"/><path d="M428.26 280.84h0M428.9 279.8h0M429.4 277.23h0M429.89 274.66h0M430.5 271.5h0M430.96 268.9h0M431.29 267.1h0M431.64 265.1h0M432.1 262.71h0M432.44 261.34h0M432.93 259.39h0M433.32 257.83h0M433.66 256.46h0M434 255.09h0M434.6 252.5h0M434.91 251.1h0M435.55 247.9h0M435.85 244.3h0M436.3 239.29h0M436.59 236.86h0M437.05 233.01h0M437.88 229.2h0M438.56 224h0M438.92 218.99h0M439.41 213.67h0M439.64 210.62h0M440.19 207.12h0" stroke="#0a6fc4" stroke-width="2.2" stroke-linecap="round" fill="none"/><polyline points="352,302 387,302 389,301.5 391.3,299.6 393.4,294.4 396.5,288.2 399.6,277.7 401.7,269.4 403.17,262.07" stroke="#ff4a0a" stroke-width="2.4" stroke-linecap="round" stroke-linejoin="round" fill="none"/><polyline points="418.51,201.92 419.5,200.4 424.7,199.4 433,197.3 444.5,196.6" stroke="#ff4a0a" stroke-width="2.4" stroke-linecap="round" stroke-linejoin="round" fill="none"/><path d="M403.44 260.68h0M404 257.7h0M404.49 254.7h0M404.72 253.3h0M404.98 251.7h0M405.24 250.1h0M405.53 248.3h0M405.8 246.28h0M406.12 243.86h0M406.33 242.24h0M406.5 241.03h0M406.87 238.2h0M407.62 235.5h0M408.59 232.22h0M410.04 227.79h0M410.91 224.2h0M411.73 221h0M412.58 217.64h0M413.44 214.1h0M413.91 212.1h0M415.7 208.16h0M417.06 204.55h0" stroke="#ff4a0a" stroke-width="2.2" stroke-linecap="round" fill="none"/><polyline points="332,302 353,302 355.3,301.7 364.1,299.2 367.9,292.9 370.4,285.4 373.4,280.4 375.9,267.8 378.4,252.8 381.5,234 383.8,223.5 385,221.3 387.1,215.1 387.86,214.14" stroke="#ffaa0a" stroke-width="2.4" stroke-linecap="round" stroke-linejoin="round" fill="none"/><polyline points="397.38,201.66 397.5,201.5 400.7,198.8 404,197.2 407.1,196.6" stroke="#ffaa0a" stroke-width="2.4" stroke-linecap="round" stroke-linejoin="round" fill="none"/><path d="M388.75 213.01h0M390.54 210.76h0M391.8 209.14h0M393.16 207.34h0M394.03 206.19h0M395.59 204.08h0M396.43 202.95h0M397.26 201.82h0" stroke="#ffaa0a" stroke-width="2.2" stroke-linecap="round" fill="none"/><polyline points="326,302 333,302 335.3,301.7 340.3,299.2 345.3,295.4 350.3,290.4 351.21,288.11" stroke="#96219e" stroke-width="2.4" stroke-linecap="round" stroke-linejoin="round" fill="none"/><polyline points="367.04,209.86 367.9,207.6 371.7,202.6 376.7,198.8 381.7,197 388,196.5" stroke="#96219e" stroke-width="2.4" stroke-linecap="round" stroke-linejoin="round" fill="none"/><path d="M351.89 286.39h0M352.65 284.48h0M353.28 281.94h0M353.68 280.17h0M354.03 278.6h0M354.47 276.63h0M354.91 274.67h0M355.41 272.11h0M355.62 270.52h0M356.14 266.54h0M356.59 263.16h0M356.85 261.18h0M357.17 258.79h0M357.49 256.21h0M357.8 253.63h0M358.03 251.64h0M358.48 247.87h0M359.01 243.49h0M359.5 240.72h0M360.09 237.74h0M360.45 235.95h0M360.85 233.97h0M361.36 231.39h0M361.8 229.22h0M362.58 225.28h0M362.97 223.31h0M363.32 221.54h0M364.17 217.41h0M365.25 214.58h0M365.96 212.69h0" stroke="#96219e" stroke-width="2.2" stroke-linecap="round" fill="none"/><path d="M307.3 302h0M316.21 302h0M321.42 302h0M325.12 302h0M327.99 301.51h0M330.33 298.98h0M332.31 295.98h0M334.03 292.18h0M335.55 288.52h0M336.9 284.03h0M338.13 279.72h0M339.24 272h0M340.27 264.27h0M341.23 258.63h0M342.11 255.13h0M342.94 251.87h0M343.72 248.8h0M344.46 245.95h0M345.15 243.27h0M345.81 240.74h0M346.44 238.32h0M347.04 236h0M347.61 233.77h0M348.15 231.63h0M348.68 229.58h0M349.18 227.61h0M349.67 225.71h0M350.14 224.35h0M350.59 223.22h0M351.02 222.12h0M351.44 221.06h0M351.85 220.03h0M352.25 219.03h0M352.63 218.71h0M353 218.49h0M353.37 218.28h0M353.72 218.08h0M354.06 217.88h0M354.4 217.68h0M354.72 217.49h0M355.04 217.31h0M355.35 217.13h0M355.65 216.95h0M355.95 216.78h0M356.24 216.61h0M356.52 216.45h0M356.79 215.62h0M357.06 214.52h0M357.33 213.45h0M357.59 212.4h0M357.84 211.37h0M358.09 210.37h0M358.34 209.38h0M358.58 208.41h0M358.81 207.45h0M359.05 206.52h0M359.27 206.13h0M359.5 205.91h0M359.72 205.7h0M359.93 205.49h0M360.15 205.28h0M360.35 205.08h0M360.56 204.88h0M360.76 204.68h0M360.96 204.49h0M361.16 204.3h0M361.35 204.11h0M361.54 203.92h0M361.73 203.74h0M361.91 203.56h0M362.1 203.38h0M362.28 203.21h0M362.45 203.03h0M362.63 202.86h0M362.8 202.7h0M362.97 202.55h0M363.14 202.42h0M363.31 202.29h0M363.47 202.17h0M363.63 202.04h0M363.79 201.92h0M363.95 201.8h0M364.1 201.68h0M364.26 201.57h0M364.41 201.45h0M364.56 201.34h0M364.71 201.22h0M364.86 201.11h0M365 201h0M365.15 200.89h0M365.29 200.79h0M365.43 200.68h0M365.57 200.57h0M365.7 200.47h0M365.84 200.37h0M365.98 200.26h0M366.11 200.16h0M366.24 200.06h0M366.37 199.96h0M366.5 199.86h0M366.63 199.77h0M366.75 199.67h0M366.88 199.58h0M367 199.48h0M367.13 199.39h0M367.25 199.29h0M367.37 199.2h0M367.49 199.11h0M367.61 199.02h0M367.73 198.93h0M367.84 198.84h0M367.96 198.78h0M368.07 198.74h0M368.18 198.7h0M368.3 198.66h0M368.41 198.62h0M368.52 198.58h0M368.63 198.54h0M368.74 198.5h0M368.84 198.46h0M368.95 198.42h0M369.06 198.38h0M369.16 198.35h0M369.27 198.31h0M369.37 198.27h0M369.47 198.23h0M369.57 198.2h0M369.67 198.16h0M369.77 198.13h0M369.87 198.09h0M369.97 198.05h0M370.07 198.02h0M370.17 197.98h0M370.26 197.95h0M370.36 197.92h0M370.45 197.88h0M370.55 197.85h0M370.64 197.81h0M370.73 197.78h0M370.83 197.75h0M370.92 197.71h0M371.01 197.68h0M371.1 197.65h0M371.19 197.62h0M371.28 197.58h0M371.36 197.55h0M371.45 197.52h0M371.54 197.49h0M371.63 197.46h0" stroke="#5aa811" stroke-width="2.2" stroke-linecap="round" fill="none"/><polyline points="371.71,197.43 372.9,197 379.2,196.5" stroke="#5aa811" stroke-width="2.4" stroke-linecap="round" stroke-linejoin="round" fill="none"/><g font-size="6.07" fill="#151515"><circle cx="320.12" cy="336.46" r="1.15" fill="#0a6fc4"/><text x="332.07" y="338.42">p_zal = 0.0001</text><circle cx="320.12" cy="344.49" r="1.15" fill="#ff4a0a"/><text x="332.07" y="346.45">p_zal = 0.001</text><circle cx="386.5" cy="336.46" r="1.15" fill="#ffaa0a"/><text x="398.35" y="338.42">p_zal = 0.01</text><circle cx="386.5" cy="344.49" r="1.15" fill="#96219e"/><text x="398.35" y="346.45">p_zal = 0.1</text><circle cx="445.63" cy="336.46" r="1.15" fill="#5aa811"/><text x="457.87" y="338.42">p_zal = 1</text></g><text x="386.9" y="360.8" font-family="Liberation Serif, Times New Roman, serif" font-size="9.7" fill="#000" text-anchor="middle">C = 3%</text></g>
<g><path d="M169.7 485.4H348.5M169.7 481.69H348.5M169.7 477.99H348.5M169.7 474.29H348.5M169.7 466.88H348.5M169.7 463.18H348.5M169.7 459.47H348.5M169.7 455.77H348.5M169.7 448.36H348.5M169.7 444.66H348.5M169.7 440.96H348.5M169.7 437.25H348.5M169.7 429.85H348.5M169.7 426.14H348.5M169.7 422.44H348.5M169.7 418.74H348.5M169.7 411.33H348.5M169.7 407.63H348.5M169.7 403.92H348.5M169.7 400.22H348.5M169.7 392.81H348.5M169.7 389.11H348.5M169.7 385.41H348.5M169.7 381.7H348.5M178.67 378V489.1M183.92 378V489.1M187.64 378V489.1M190.53 378V489.1M192.89 378V489.1M194.88 378V489.1M196.61 378V489.1M198.14 378V489.1M208.47 378V489.1M213.72 378V489.1M217.44 378V489.1M220.33 378V489.1M222.69 378V489.1M224.68 378V489.1M226.41 378V489.1M227.94 378V489.1M238.27 378V489.1M243.52 378V489.1M247.24 378V489.1M250.13 378V489.1M252.49 378V489.1M254.48 378V489.1M256.21 378V489.1M257.74 378V489.1M268.07 378V489.1M273.32 378V489.1M277.04 378V489.1M279.93 378V489.1M282.29 378V489.1M284.28 378V489.1M286.01 378V489.1M287.54 378V489.1M297.87 378V489.1M303.12 378V489.1M306.84 378V489.1M309.73 378V489.1M312.09 378V489.1M314.08 378V489.1M315.81 378V489.1M317.34 378V489.1M327.67 378V489.1M332.92 378V489.1M336.64 378V489.1M339.53 378V489.1M341.89 378V489.1M343.88 378V489.1M345.61 378V489.1M347.14 378V489.1" stroke="#f6f6f6" stroke-width="0.6" fill="none"/><path d="M169.7 470.58H348.5M169.7 452.07H348.5M169.7 433.55H348.5M169.7 415.03H348.5M169.7 396.52H348.5M169.7 378H348.5M199.5 378V489.1M229.3 378V489.1M259.1 378V489.1M288.9 378V489.1M318.7 378V489.1M348.5 378V489.1" stroke="#f0f0f0" stroke-width="0.7" fill="none"/><path d="M169.7 378V489.1H348.5M169.7 489.1h1.8M169.7 470.58h1.8M169.7 452.07h1.8M169.7 433.55h1.8M169.7 415.03h1.8M169.7 396.52h1.8M169.7 378h1.8M169.7 489.1v-1.8M199.5 489.1v-1.8M229.3 489.1v-1.8M259.1 489.1v-1.8M288.9 489.1v-1.8M318.7 489.1v-1.8M348.5 489.1v-1.8M178.67 489.1v-0.9M183.92 489.1v-0.9M187.64 489.1v-0.9M190.53 489.1v-0.9M192.89 489.1v-0.9M194.88 489.1v-0.9M196.61 489.1v-0.9M198.14 489.1v-0.9M208.47 489.1v-0.9M213.72 489.1v-0.9M217.44 489.1v-0.9M220.33 489.1v-0.9M222.69 489.1v-0.9M224.68 489.1v-0.9M226.41 489.1v-0.9M227.94 489.1v-0.9M238.27 489.1v-0.9M243.52 489.1v-0.9M247.24 489.1v-0.9M250.13 489.1v-0.9M252.49 489.1v-0.9M254.48 489.1v-0.9M256.21 489.1v-0.9M257.74 489.1v-0.9M268.07 489.1v-0.9M273.32 489.1v-0.9M277.04 489.1v-0.9M279.93 489.1v-0.9M282.29 489.1v-0.9M284.28 489.1v-0.9M286.01 489.1v-0.9M287.54 489.1v-0.9M297.87 489.1v-0.9M303.12 489.1v-0.9M306.84 489.1v-0.9M309.73 489.1v-0.9M312.09 489.1v-0.9M314.08 489.1v-0.9M315.81 489.1v-0.9M317.34 489.1v-0.9M327.67 489.1v-0.9M332.92 489.1v-0.9M336.64 489.1v-0.9M339.53 489.1v-0.9M341.89 489.1v-0.9M343.88 489.1v-0.9M345.61 489.1v-0.9M347.14 489.1v-0.9" stroke="#909090" stroke-width="0.7" fill="none"/><g font-size="6.69" fill="#262626"><text x="167.04" y="491.41" text-anchor="end">0</text><text x="167.04" y="472.9" text-anchor="end">1000</text><text x="167.04" y="454.38" text-anchor="end">2000</text><text x="167.04" y="435.86" text-anchor="end">3000</text><text x="167.04" y="417.35" text-anchor="end">4000</text><text x="167.04" y="398.83" text-anchor="end">5000</text><text x="167.04" y="380.31" text-anchor="end">6000</text><text x="169.7" y="500.71" text-anchor="middle">10<tspan dy="-2.56" font-size="5.12">0</tspan></text><text x="229.3" y="500.71" text-anchor="middle">10<tspan dy="-2.56" font-size="5.12">2</tspan></text><text x="288.9" y="500.71" text-anchor="middle">10<tspan dy="-2.56" font-size="5.12">4</tspan></text><text x="348.5" y="500.71" text-anchor="middle">10<tspan dy="-2.56" font-size="5.12">6</tspan></text></g><text x="259" y="510.45" font-size="7.48" fill="#262626" text-anchor="middle">Simulation timestep [-]</text><text transform="translate(147.7 433.55) rotate(-90)" font-size="7.55" fill="#262626" text-anchor="middle">Σ of aggregates</text><polyline points="234,489.1 255.1,489.1 266,488.7 270.4,488.2 272.4,484.2 275.5,480.1 278.5,477.1 280.05,474.01" stroke="#0a6fc4" stroke-width="2.4" stroke-linecap="round" stroke-linejoin="round" fill="none"/><polyline points="285.01,463.43 286.79,461.37" stroke="#0a6fc4" stroke-width="2.4" stroke-linecap="round" stroke-linejoin="round" fill="none"/><polyline points="291.99,442.41 294.41,439.99" stroke="#0a6fc4" stroke-width="2.4" stroke-linecap="round" stroke-linejoin="round" fill="none"/><polyline points="302.69,406.47 302.8,406.3 308.9,404.8 310.9,402.8 311.68,401.86" stroke="#0a6fc4" stroke-width="2.4" stroke-linecap="round" stroke-linejoin="round" fill="none"/><polyline points="312.07,401.39 312.73,400.61" stroke="#0a6fc4" stroke-width="2.4" stroke-linecap="round" stroke-linejoin="round" fill="none"/><polyline points="313.12,400.14 313.9,399.2 320,396.8 326.5,396.3" stroke="#0a6fc4" stroke-width="2.4" stroke-linecap="round" stroke-linejoin="round" fill="none"/><path d="M280.89 472.16l0.2 -0.8M281.59 470.46l0.2 -0.8M282.96 467.25l0.2 -0.8M287.32 459.48l0.2 -0.8M287.72 455.04l0.2 -0.8M288.32 451.04l0.2 -0.8M289.38 448.56l0.2 -0.8M290.44 445.91l0.2 -0.8M291.33 443.64l0.2 -0.8M295.11 438.13l0.2 -0.8M295.99 434.78l0.2 -0.8M296.54 430.54l0.2 -0.8M296.81 427.69l0.2 -0.8M297.16 425.25l0.2 -0.8M297.83 420.8l0.2 -0.8M298.89 416.01l0.2 -0.8M299.88 411.68l0.2 -0.8M301.78 407.87l0.2 -0.8" stroke="#0a6fc4" stroke-width="2.2" stroke-linecap="round" fill="none"/><polyline points="209,489.1 235,489.1 241.1,488.6 244.1,486.2 249.2,484.2 252.8,481.8 253.91,478.08" stroke="#ff4a0a" stroke-width="2.4" stroke-linecap="round" stroke-linejoin="round" fill="none"/><polyline points="255.9,465.72 258.6,463.18" stroke="#ff4a0a" stroke-width="2.4" stroke-linecap="round" stroke-linejoin="round" fill="none"/><polyline points="271.98,413.21 276.32,410.99" stroke="#ff4a0a" stroke-width="2.4" stroke-linecap="round" stroke-linejoin="round" fill="none"/><polyline points="280.5,400.38 280.6,400.2 285.6,398.8 293.7,396.8 301.4,396.3" stroke="#ff4a0a" stroke-width="2.4" stroke-linecap="round" stroke-linejoin="round" fill="none"/><path d="M254.29 476.09l0.25 -1M254.66 471.62l0.25 -1M255 469l0.25 -1M259.54 461.3l0.25 -1M260.05 458.27l0.25 -1M260.31 456.25l0.25 -1M260.58 454.23l0.25 -1M261.04 451.21l0.25 -1M261.67 448.45l0.25 -1M262.61 444.51l0.25 -1M263.89 439.58l0.25 -1M264.94 436.25l0.25 -1M266.68 431.61l0.25 -1M268.12 426.49l0.25 -1M269.88 421.72l0.25 -1M270.71 418.82l0.25 -1M271.26 416.06l0.25 -1M271.76 413.5l0.25 -1M276.93 409.13l0.25 -1M277.56 406.58l0.25 -1M279.15 402.88l0.25 -1" stroke="#ff4a0a" stroke-width="2.2" stroke-linecap="round" fill="none"/><polyline points="186.1,489.1 210,489.1 217.5,488.4 223.6,486.2 226.6,480.1 229.7,476.1 231.7,468 233.7,459.9 235.3,449.8 236.7,441.7 238.8,432.6 240.2,423.5 241.8,415.4 243.8,408.3 246.3,403.2 250.9,399.2 258,396.7 268.5,396.3" stroke="#ffaa0a" stroke-width="2.4" stroke-linecap="round" stroke-linejoin="round" fill="none"/><polyline points="184,489.1 187.1,489.1 195.2,487.8 200.3,485.2 203.3,481.2 204.85,478.15" stroke="#96219e" stroke-width="2.4" stroke-linecap="round" stroke-linejoin="round" fill="none"/><polyline points="224.89,404.91 228.6,401.2 233.7,398.2 239.8,396.5 247.5,396.3" stroke="#96219e" stroke-width="2.4" stroke-linecap="round" stroke-linejoin="round" fill="none"/><path d="M205.67 476.54h0M207.09 473h0M208.03 470.14h0M209.01 466.83h0M210.07 463.08h0M210.55 461.31h0M211.38 457.95h0M212.35 454h0M213.18 450.44h0M214 446.88h0M214.67 443.91h0M215.11 441.93h0M215.93 438.17h0M216.5 435.6h0M217.08 431.84h0M217.72 427.69h0M218.21 424.92h0M218.72 422.35h0M219.56 418.21h0M220.58 414.75h0M221.2 412.64h0M221.87 410.75h0M222.78 408.9h0M224.51 405.38h0" stroke="#96219e" stroke-width="2.2" stroke-linecap="round" fill="none"/><path d="M169.7 489.1h0M178.67 489.1h0M183.92 489.1h0M187.64 485.52h0M190.53 483.75h0M192.89 480.53h0M194.88 477.29h0M196.61 472.68h0M198.14 467.61h0M199.5 462.08h0M200.73 452.94h0M201.86 448.19h0M202.9 444.24h0M203.85 440.06h0M204.75 435.8h0M205.58 430.16h0M206.37 425.14h0M207.11 420.94h0M207.81 417.94h0M208.47 415.18h0M209.1 413.26h0M209.7 411.42h0M210.28 409.67h0M210.83 408.59h0M211.36 407.72h0M211.87 406.89h0M212.35 406.08h0M212.83 405.31h0M213.28 404.56h0M213.72 403.98h0M214.14 403.56h0M214.55 403.15h0M214.95 402.75h0M215.34 402.36h0M215.71 401.99h0M216.08 401.62h0M216.43 401.27h0M216.78 400.92h0M217.11 400.59h0M217.44 400.26h0M217.76 400.07h0M218.07 399.91h0M218.38 399.75h0M218.67 399.6h0M218.97 399.45h0M219.25 399.31h0M219.53 399.17h0M219.8 399.03h0M220.07 398.89h0M220.33 398.76h0M220.59 398.63h0M220.84 398.5h0M221.08 398.37h0M221.33 398.25h0M221.56 398.13h0M221.8 398.01h0M222.03 397.89h0M222.25 397.78h0M222.47 397.67h0M222.69 397.58h0M222.9 397.54h0M223.11 397.51h0M223.32 397.47h0M223.52 397.43h0M223.72 397.39h0M223.92 397.36h0M224.12 397.32h0M224.31 397.29h0M224.5 397.25h0M224.68 397.22h0M224.87 397.18h0M225.05 397.15h0M225.23 397.12h0M225.4 397.09h0M225.58 397.05h0M225.75 397.02h0M225.92 396.99h0M226.08 396.96h0M226.25 396.93h0M226.41 396.9h0M226.57 396.87h0M226.73 396.84h0M226.89 396.81h0M227.04 396.79h0M227.2 396.76h0M227.35 396.73h0M227.5 396.7h0M227.65 396.67h0M227.79 396.65h0M227.94 396.62h0M228.08 396.6h0M228.22 396.57h0M228.36 396.54h0M228.5 396.52h0M228.64 396.5h0M228.77 396.5h0M228.91 396.49h0M229.04 396.49h0M229.17 396.49h0M229.3 396.49h0M229.43 396.48h0M229.56 396.48h0M229.68 396.48h0M229.81 396.48h0M229.93 396.47h0M230.05 396.47h0M230.18 396.47h0M230.3 396.47h0M230.42 396.46h0M230.53 396.46h0M230.65 396.46h0M230.77 396.46h0M230.88 396.46h0M231 396.45h0M231.11 396.45h0M231.22 396.45h0M231.33 396.45h0M231.44 396.44h0M231.55 396.44h0M231.66 396.44h0M231.77 396.44h0M231.87 396.44h0M231.98 396.43h0M232.08 396.43h0M232.19 396.43h0M232.29 396.43h0M232.39 396.43h0M232.49 396.42h0M232.6 396.42h0M232.7 396.42h0M232.79 396.42h0M232.89 396.42h0M232.99 396.41h0M233.09 396.41h0M233.18 396.41h0M233.28 396.41h0M233.37 396.41h0M233.47 396.4h0M233.56 396.4h0M233.65 396.4h0M233.75 396.4h0M233.84 396.4h0M233.93 396.4h0M234.02 396.39h0M234.11 396.39h0M234.2 396.39h0M234.29 396.39h0M234.37 396.39h0M234.46 396.39h0" stroke="#5aa811" stroke-width="2.2" stroke-linecap="round" fill="none"/><polyline points="234.55,396.38 238.8,396.3" stroke="#5aa811" stroke-width="2.4" stroke-linecap="round" stroke-linejoin="round" fill="none"/><g font-size="6.1" fill="#151515"><circle cx="182.59" cy="523.74" r="1.15" fill="#0a6fc4"/><text x="194.6" y="525.7">p_zal = 0.0001</text><circle cx="182.59" cy="531.81" r="1.15" fill="#ff4a0a"/><text x="194.6" y="533.77">p_zal = 0.001</text><circle cx="249.31" cy="523.74" r="1.15" fill="#ffaa0a"/><text x="261.21" y="525.7">p_zal = 0.01</text><circle cx="249.31" cy="531.81" r="1.15" fill="#96219e"/><text x="261.21" y="533.77">p_zal = 0.1</text><circle cx="308.74" cy="523.74" r="1.15" fill="#5aa811"/><text x="321.04" y="525.7">p_zal = 1</text></g><text x="249.6" y="545.8" font-family="Liberation Serif, Times New Roman, serif" font-size="9.7" fill="#000" text-anchor="middle">C = 4%</text></g>
</svg>
</body></html>
